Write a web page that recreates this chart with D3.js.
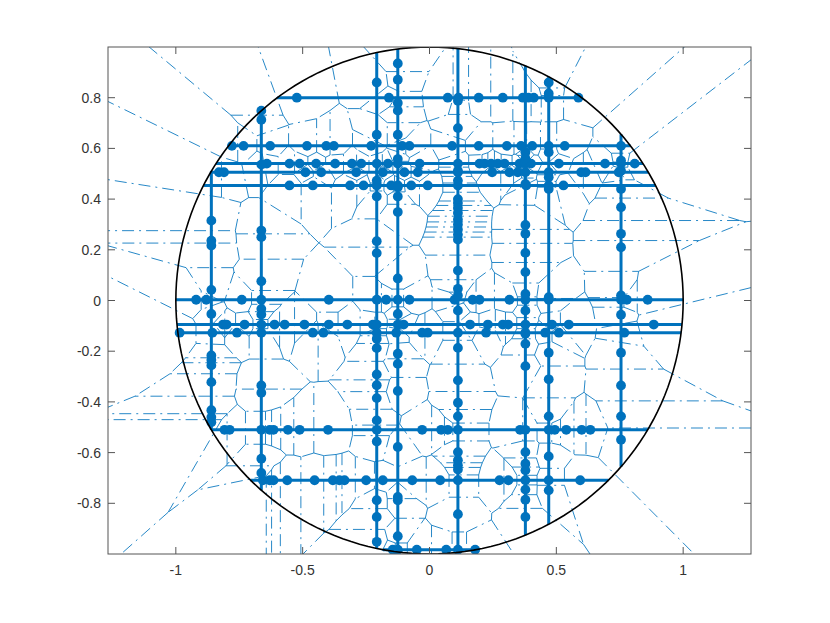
<!DOCTYPE html>
<html><head><meta charset="utf-8">
<script src="https://cdn.jsdelivr.net/npm/d3@7"></script>
<style>html,body{margin:0;background:#fff}svg{display:block}text{font-family:"Liberation Sans",Arial,sans-serif;font-size:14px;fill:#333}</style>
</head><body><svg id="c" width="830" height="623"></svg>
<script>
const xTicks=[-1,-0.5,0,0.5,1];
const yTicks=[-0.8,-0.6,-0.4,-0.2,0,0.2,0.4,0.6,0.8];
const xDomain=[-1.2674,1.2674];
const yDomain=[-1,1];
// horizontal chords: y value and the x of each point on it
const rowY=[0.8,0.61,0.54,0.506,0.454,0.003,-0.095,-0.127,-0.51,-0.709,-0.983];
const rowX=[
 [-0.523,-0.16,0.072,0.114,0.194,0.289,0.368,0.39,0.411,0.47,0.587],
 [-0.779,-0.733,-0.628,-0.483,-0.407,-0.377,-0.23,-0.108,-0.079,0.089,0.194,0.305,0.361,0.405,0.47,0.533,0.755],
 [-0.641,-0.552,-0.512,-0.447,-0.372,-0.306,-0.269,-0.208,-0.164,-0.125,-0.039,0.112,0.197,0.217,0.243,0.269,0.296,0.355,0.378,0.4,0.51,0.692,0.755,0.809],
 [-0.83,-0.81,-0.489,-0.427,-0.289,-0.184,-0.099,-0.046,0.112,0.247,0.315,0.348,0.378,0.47,0.598,0.615,0.746],
 [-0.552,-0.46,-0.313,-0.26,-0.208,-0.151,-0.125,-0.072,-0.007,0.112,0.381,0.47,0.528],
 [-0.92,-0.88,-0.74,-0.663,-0.397,-0.208,-0.171,-0.125,-0.079,0.099,0.17,0.197,0.315,0.378,0.47,0.755,0.778,0.86],
 [-0.814,-0.8,-0.729,-0.663,-0.611,-0.571,-0.493,-0.397,-0.324,-0.223,-0.208,-0.125,-0.102,0.16,0.23,0.289,0.31,0.378,0.483,0.549,0.884],
 [-0.985,-0.856,-0.759,-0.663,-0.46,-0.418,-0.208,-0.131,-0.029,-0.007,0.112,0.223,0.378,0.456,0.51,0.768],
 [-0.808,-0.788,-0.663,-0.63,-0.615,-0.558,-0.512,-0.4,-0.208,-0.029,0.046,0.072,0.112,0.357,0.378,0.47,0.494,0.539,0.6,0.634],
 [-0.657,-0.63,-0.615,-0.561,-0.453,-0.381,-0.355,-0.335,-0.25,-0.184,-0.068,0.042,0.112,0.276,0.311,0.378,0.47,0.594],
 [-0.145,-0.125,-0.05,0.066,0.112,0.18]
];
// vertical chords: x value and the y of each point on it
const colX=[-0.86,-0.663,-0.208,-0.125,0.112,0.378,0.47,0.755];
const colY=[
 [0.315,0.236,0.217,0.042,-0.053,-0.217,-0.235,-0.256,-0.322,-0.433,-0.46,-0.48],
 [0.749,0.713,0.536,0.276,0.25,0.076,-0.033,-0.055,-0.335,-0.364,-0.624,-0.68],
 [0.86,0.654,0.473,0.41,0.234,0.187,-0.151,-0.188,-0.292,-0.334,-0.385,-0.473,-0.556,-0.788,-0.854,-0.952],
 [0.935,0.871,0.779,0.749,0.654,0.558,0.447,0.41,0.349,0.087,-0.053,-0.21,-0.25,-0.357,-0.578,-0.775,-0.788,-0.93],
 [0.788,0.68,0.512,0.473,0.4,0.385,0.365,0.345,0.32,0.3,0.28,0.26,0.24,0.118,0.046,0.02,-0.04,-0.187,-0.315,-0.403,-0.457,-0.598,-0.63,-0.65,-0.667,-0.843],
 [0.585,0.56,0.46,0.298,0.263,0.188,0.112,0.026,-0.04,-0.131,-0.171,-0.259,-0.598,-0.644,-0.67,-0.746,-0.786,-0.854],
 [0.86,0.817,0.585,0.486,0.44,0.013,-0.206,-0.311,-0.457,-0.615,-0.749],
 [0.61,0.552,0.512,0.44,0.368,0.263,0.21,0.02,-0.056,-0.206,-0.335,-0.457,-0.549]
];
const BLUE="#0072BD", INK="#555";
const plot={l:108,r:751,t:47,b:554};
const x=d3.scaleLinear().domain(xDomain).range([plot.l,plot.r]);
const y=d3.scaleLinear().domain(yDomain).range([plot.b,plot.t]);
const svg=d3.select("#c");
svg.append("defs").append("clipPath").attr("id","pa").append("rect")
  .attr("x",plot.l).attr("y",plot.t).attr("width",plot.r-plot.l).attr("height",plot.b-plot.t);
const g=svg.append("g").attr("clip-path","url(#pa)");

const seen=new Set(), pts=[];
const add=(a,b)=>{const k=a.toFixed(3)+","+b.toFixed(3);if(!seen.has(k)){seen.add(k);pts.push([a,b]);}};
rowY.forEach((v,i)=>rowX[i].forEach(u=>add(u,v)));
colX.forEach((u,i)=>colY[i].forEach(v=>add(u,v)));

// Voronoi edges, each its own line so the dash pattern restarts per edge
const del=d3.Delaunay.from(pts), vor=del.voronoi([-50,-50,50,50]);
const cc=vor.circumcenters, he=del.halfedges, tri=del.triangles;
const edges=[];
for(let i=0;i<he.length;i++){
  const j=he[i], ti=Math.floor(i/3);
  const a=[cc[2*ti],cc[2*ti+1]];
  if(j>i){const tj=Math.floor(j/3);edges.push([a,[cc[2*tj],cc[2*tj+1]]]);}
  else if(j===-1){
    const n=i%3===2?i-2:i+1, o=n%3===2?n-2:n+1;
    const p=pts[tri[i]],q=pts[tri[n]],r=pts[tri[o]];
    let d=[q[1]-p[1],p[0]-q[0]];
    const len=Math.hypot(d[0],d[1]);d=[d[0]/len,d[1]/len];
    const s=(r[0]-p[0])*d[0]+(r[1]-p[1])*d[1]>0?-1:1;
    edges.push([a,[a[0]+s*d[0]*5,a[1]+s*d[1]*5]]);
  }
}
g.append("g").selectAll("line").data(edges).join("line")
  .attr("x1",d=>x(d[0][0])).attr("y1",d=>y(d[0][1]))
  .attr("x2",d=>x(d[1][0])).attr("y2",d=>y(d[1][1]))
  .attr("stroke",BLUE).attr("stroke-width",0.85).attr("stroke-dasharray","12 5 2 5").attr("fill","none");

// chords inside the unit circle
const chordH=rowY.map(v=>{const h=Math.sqrt(1-v*v);return [[-h,v],[h,v]];});
const chordV=colX.map(u=>{const h=Math.sqrt(1-u*u);return [[u,-h],[u,h]];});
g.append("g").selectAll("line").data(chordH.concat(chordV)).join("line")
  .attr("x1",d=>x(d[0][0])).attr("y1",d=>y(d[0][1]))
  .attr("x2",d=>x(d[1][0])).attr("y2",d=>y(d[1][1]))
  .attr("stroke",BLUE).attr("stroke-width",3);
g.append("g").selectAll("circle").data(pts).join("circle")
  .attr("cx",d=>x(d[0])).attr("cy",d=>y(d[1])).attr("r",4.9).attr("fill",BLUE);

// unit circle
const circ=d3.range(0,361,2).map(a=>[Math.cos(a*Math.PI/180),Math.sin(a*Math.PI/180)]);
g.append("path").attr("d",d3.line().x(d=>x(d[0])).y(d=>y(d[1]))(circ))
  .attr("fill","none").attr("stroke","#000").attr("stroke-width",1.6);

// axes box with inward ticks
const ax=svg.append("g");
ax.append("rect").attr("x",plot.l).attr("y",plot.t).attr("width",plot.r-plot.l).attr("height",plot.b-plot.t)
  .attr("fill","none").attr("stroke",INK).attr("stroke-width",1);
const tl=7;
xTicks.forEach(t=>{
  ax.append("line").attr("x1",x(t)).attr("x2",x(t)).attr("y1",plot.b).attr("y2",plot.b-tl).attr("stroke",INK).attr("stroke-width",1);
  ax.append("line").attr("x1",x(t)).attr("x2",x(t)).attr("y1",plot.t).attr("y2",plot.t+tl).attr("stroke",INK).attr("stroke-width",1);
  ax.append("text").attr("x",x(t)).attr("y",plot.b+21).attr("text-anchor","middle").text(String(t));
});
yTicks.forEach(t=>{
  ax.append("line").attr("y1",y(t)).attr("y2",y(t)).attr("x1",plot.l).attr("x2",plot.l+tl).attr("stroke",INK).attr("stroke-width",1);
  ax.append("line").attr("y1",y(t)).attr("y2",y(t)).attr("x1",plot.r).attr("x2",plot.r-tl).attr("stroke",INK).attr("stroke-width",1);
  ax.append("text").attr("x",plot.l-7).attr("y",y(t)+5).attr("text-anchor","end").text(String(t));
});
</script></body></html>
